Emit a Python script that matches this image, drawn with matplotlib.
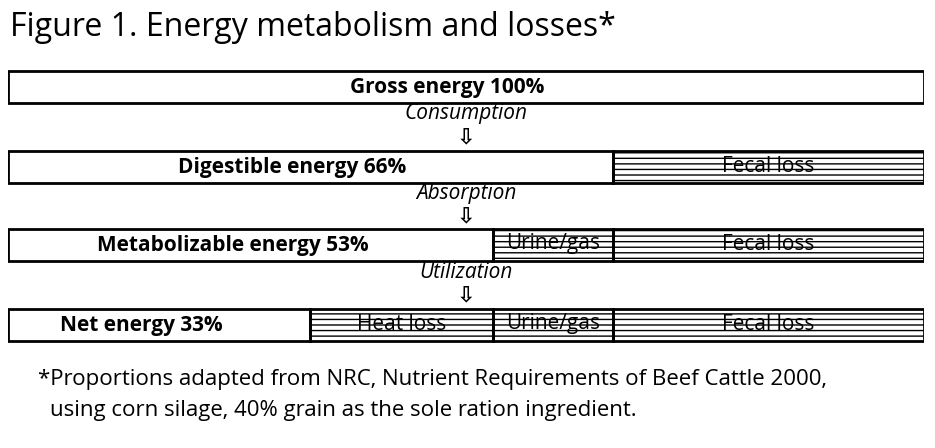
import matplotlib
matplotlib.use("Agg")
import matplotlib.pyplot as plt

# rows: (label text for retained energy, retained %, list of loss segments)
retained = [100, 66, 53, 33]
retained_labels = ["Gross energy 100%", "Digestible energy 66%",
                   "Metabolizable energy 53%", "Net energy 33%"]
fecal = [0, 34, 34, 34]
urine_gas = [0, 0, 13, 13]
heat = [0, 0, 0, 20]
steps = ["Consumption", "Absorption", "Utilization"]

row_y = [87, 167, 245, 325]   # pixel rows of bar centres
bar_h = 32

fig = plt.figure(figsize=(9.35, 4.48), dpi=100)
fig.text(10 / 935, 1 - 28 / 448, "Figure 1. Energy metabolism and losses*",
         fontsize=23, family="Open Sans", va="center", ha="left")
ax = fig.add_axes([8 / 935, 0, 916 / 935, 1])
ax.set_xlim(0, 100)
ax.set_ylim(448, 0)
ax.axis("off")

for i in range(4):
    y = row_y[i]
    ax.barh(y, retained[i], height=bar_h, left=0, color="white",
            edgecolor="black", linewidth=2)
    ax.text(retained[i] / 2 - 2, y, retained_labels[i], ha="center", va="center",
            fontsize=15, fontweight="bold", family="Open Sans")
    left = retained[i]
    for val, name in [(heat[i], "Heat loss"), (urine_gas[i], "Urine/gas"),
                      (fecal[i], "Fecal loss")]:
        if val == 0:
            continue
        ax.text(left + val / 2, y - 1, name, ha="center", va="center",
                fontsize=15, family="Open Sans", zorder=1)
        ax.barh(y, val, height=bar_h, left=left, color="none",
                edgecolor="black", linewidth=2, hatch="---", zorder=2)
        left += val

for i, s in enumerate(steps):
    ym = (row_y[i] + row_y[i + 1]) / 2
    ax.text(50, ym - 13, s, ha="center", va="center", fontsize=15,
            style="italic", family="Open Sans")
    ax.text(50, ym + 10, "\u21e9", ha="center", va="center", fontsize=16,
            fontweight="bold", family="DejaVu Sans")

fig.text(38 / 935, 1 - 379 / 448,
         "*Proportions adapted from NRC, Nutrient Requirements of Beef Cattle 2000,",
         fontsize=16, family="Open Sans", va="center", ha="left")
fig.text(50 / 935, 1 - 410 / 448,
         "using corn silage, 40% grain as the sole ration ingredient.",
         fontsize=16, family="Open Sans", va="center", ha="left")

fig.savefig("out.png", dpi=100)
